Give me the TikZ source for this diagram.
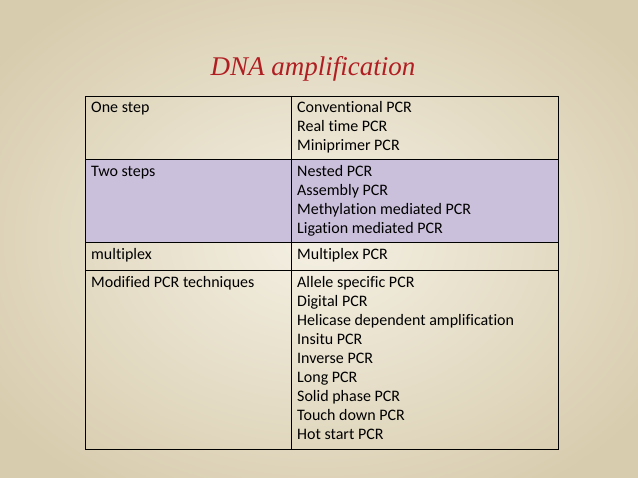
\documentclass[tikz,border=0pt]{standalone}
\usepackage{fontspec}
\setmainfont{Carlito}[RawFeature={-liga}]
\newfontfamily\titlefont{Liberation Serif}
\definecolor{bgin}{HTML}{F4F0E3}
\definecolor{bgout}{HTML}{D8CCAE}
\definecolor{purp}{HTML}{CBC0DC}
\definecolor{titred}{HTML}{B01E22}
\tikzset{cell/.style={anchor=base west,inner sep=0pt,font=\fontsize{16}{19}\selectfont}}
\begin{document}
\begin{tikzpicture}[x=1pt,y=-1pt]
\useasboundingbox (0,0) rectangle (638,478);
\shade[inner color=bgin,outer color=bgout] (-80,-60) rectangle (718,538);
\fill[purp] (85,159) rectangle (558,242);
\draw[line width=0.9pt] (85,96) rectangle (558,449);
\foreach \y in {159,242,270} \draw[line width=0.9pt] (85,\y) -- (558,\y);
\draw[line width=0.9pt] (291,96) -- (291,449);
\node[anchor=base,text=titred,font=\titlefont\itshape\fontsize{27}{30}\selectfont] (title) at (313,76) {DNA amplification};
\node[cell] (a1) at (91,113) {One step};
\node[cell] (a2) at (91,177) {Two steps};
\node[cell] (a3) at (91,260) {multiplex};
\node[cell] (a4) at (91,288) {Modified PCR techniques};
\foreach \t [count=\i from 0] in {Conventional PCR,Real time PCR,Miniprimer PCR}
  \node[cell] (b1\i) at (297,113+19*\i) {\t};
\foreach \t [count=\i from 0] in {Nested PCR,Assembly PCR,Methylation mediated PCR,Ligation mediated PCR}
  \node[cell] (b2\i) at (297,177+19*\i) {\t};
\node[cell] (b3) at (297,260) {Multiplex PCR};
\foreach \t [count=\i from 0] in {Allele specific PCR,Digital PCR,Helicase dependent amplification,Insitu PCR,Inverse PCR,Long PCR,Solid phase PCR,Touch down PCR,Hot start PCR}
  \node[cell] (b4\i) at (297,288+19*\i) {\t};
\end{tikzpicture}
\end{document}
